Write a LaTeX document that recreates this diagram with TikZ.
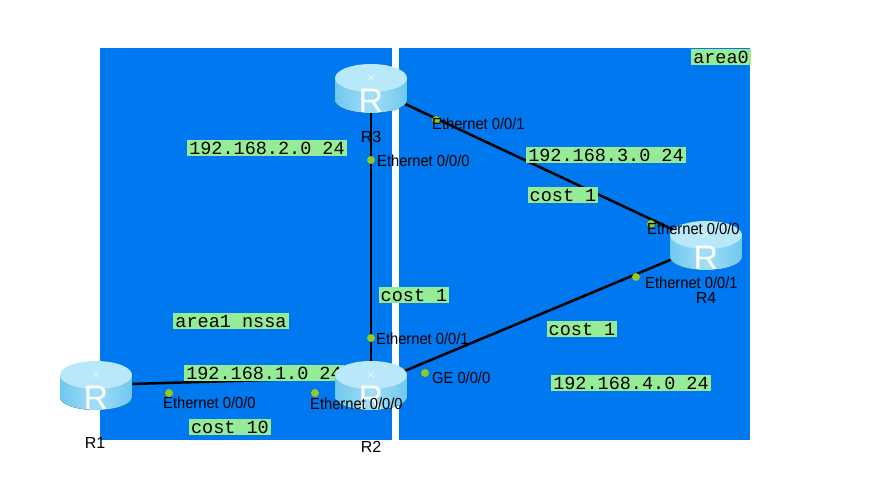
\documentclass[tikz,border=0pt]{standalone}
\usepackage{fontspec}
\setmainfont{Liberation Sans}
\newfontfamily\monof{Liberation Mono}
\begin{document}
\begin{tikzpicture}[x=1pt,y=-1pt,
  lbl/.style={fill=lblgreen,inner sep=2pt,font=\monof\fontsize{18.5}{19}\selectfont},
  ifl/.style={font=\fontsize{16}{16}\selectfont,anchor=west,inner sep=0pt,xscale=0.92,transform shape},
  rl/.style={font=\fontsize{16}{16}\selectfont,inner sep=0pt},
  dot/.style={circle,fill=dotgreen,inner sep=0pt,minimum size=8pt},
  link/.style={line width=2.5pt}]
\definecolor{areablue}{RGB}{0,120,240}
\definecolor{lblgreen}{RGB}{150,236,150}
\definecolor{dotgreen}{RGB}{150,200,30}
\definecolor{rtop}{RGB}{185,232,250}
\definecolor{rside}{RGB}{110,200,238}
\useasboundingbox (0,0) rectangle (872,501);
\fill[white] (0,0) rectangle (872,501);
\fill[areablue] (100,48) rectangle (392,440);
\fill[areablue] (399,48) rectangle (750,440);
\coordinate (R3) at (371,88);
\coordinate (R4) at (706,245);
\coordinate (R2) at (371,385);
\coordinate (R1) at (96,385);
\draw[link] (R3) -- (R2);
\draw[link] (R3) -- (R4);
\draw[link] (R2) -- (R4);
\draw[link] (R1) -- ([yshift=8]R2);
\node[lbl] (l1) at (267,148) {192.168.2.0 24};
\node[lbl] (l2) at (721,57) {area0};
\node[lbl] (l3) at (606,155) {192.168.3.0 24};
\node[lbl] (l4) at (563,195) {cost 1};
\node[lbl] (l5) at (414,295) {cost 1};
\node[lbl] (l6) at (231,321) {area1 nssa};
\node[lbl] (l7) at (582,329) {cost 1};
\node[lbl] (l8) at (631,383) {192.168.4.0 24};
\node[lbl] (l9) at (264,373) {192.168.1.0 24};
\node[lbl] (l10) at (230,427) {cost 10};
\foreach \r in {R1,R2,R3,R4}{
  \begin{scope}[shift={(\r)}]
    \fill[left color=rside,right color=rside,middle color=rtop!70!rside] (-36,-10) -- (-36,12) arc[start angle=180,end angle=0,x radius=36,y radius=13] -- (36,-10) -- cycle;
    \fill[rtop] (0,-10) ellipse[x radius=36,y radius=14];
    \node[white,font=\fontsize{34}{34}\selectfont,inner sep=0pt] at (0,13) {R};
    \node[white,font=\fontsize{14}{14}\selectfont,inner sep=0pt] at (0,-10) {$\times$};
  \end{scope}}
\node[dot] (d1) at (436,120) {}; \node[ifl] at (432,124) {Ethernet 0/0/1};
\node[dot] (d2) at (371,160) {}; \node[ifl] at (377,161) {Ethernet 0/0/0};
\node[dot] (d3) at (651,224) {}; \node[ifl] at (647,229) {Ethernet 0/0/0};
\node[dot] (d4) at (636,277) {}; \node[ifl] at (645,283) {Ethernet 0/0/1};
\node[dot] (d5) at (371,338) {}; \node[ifl] at (376,339) {Ethernet 0/0/1};
\node[dot] (d6) at (425,373) {}; \node[ifl] at (432,378) {GE 0/0/0};
\node[dot] (d7) at (169,393) {}; \node[ifl] at (163,403) {Ethernet 0/0/0};
\node[dot] (d8) at (315,393) {}; \node[ifl] at (310,404) {Ethernet 0/0/0};
\node[rl] at (371,137) {R3};
\node[rl] at (706,298) {R4};
\node[rl] at (95,443) {R1};
\node[rl] at (371,447) {R2};
\end{tikzpicture}
\end{document}
